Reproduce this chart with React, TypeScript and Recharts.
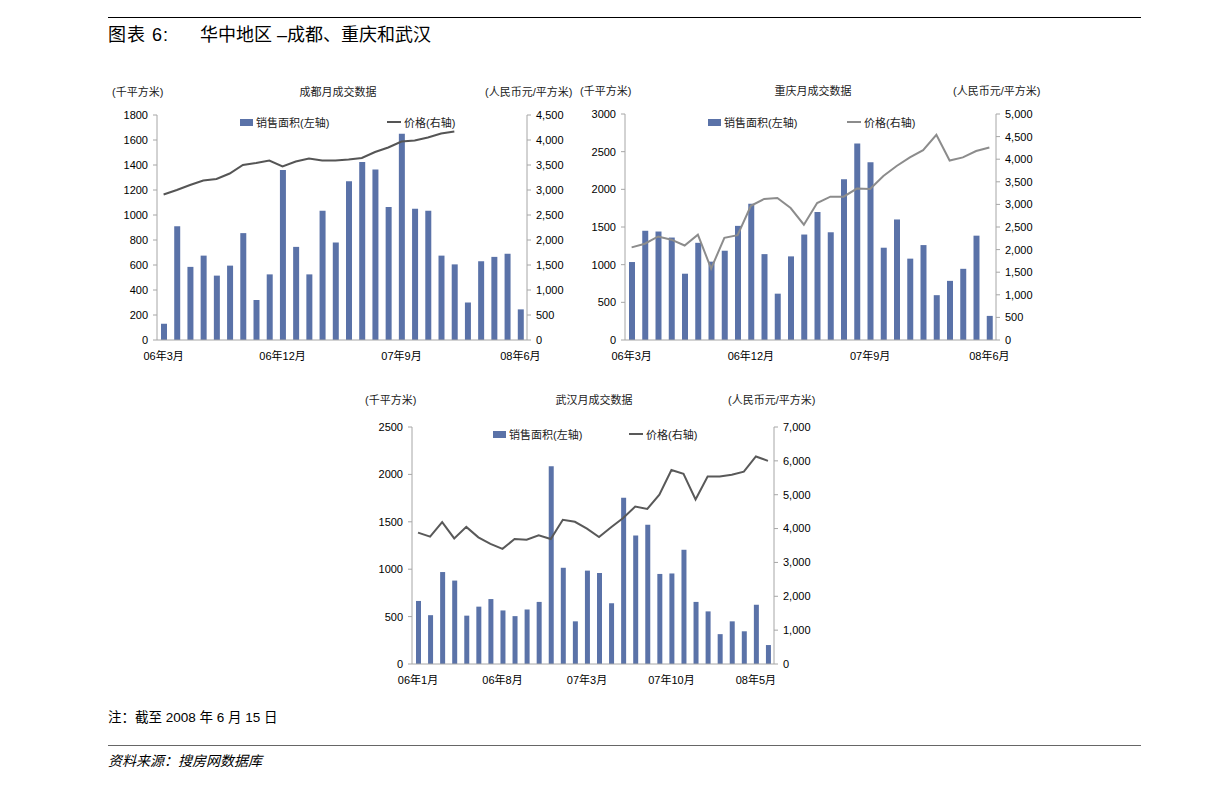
import React from 'react';
import {
  ComposedChart,
  Bar,
  Line,
  XAxis,
  YAxis,
  Legend,
} from 'recharts';

// 成都 / 重庆: 06年3月 – 08年6月
const MONTHS_0603 = [
  '06年3月', '06年4月', '06年5月', '06年6月', '06年7月', '06年8月', '06年9月', '06年10月', '06年11月', '06年12月',
  '07年1月', '07年2月', '07年3月', '07年4月', '07年5月', '07年6月', '07年7月', '07年8月', '07年9月', '07年10月',
  '07年11月', '07年12月', '08年1月', '08年2月', '08年3月', '08年4月', '08年5月', '08年6月',
];

// 武汉: 06年1月 – 08年6月
const MONTHS_0601 = [
  '06年1月', '06年2月', ...MONTHS_0603,
];

const CHENGDU_AREA = [130, 910, 585, 675, 515, 595, 855, 320, 525, 1360, 745, 525, 1035, 780, 1270, 1425, 1365, 1065, 1650, 1050, 1035, 675, 605, 300, 630, 665, 690, 245];
const CHENGDU_PRICE = [2910, 3000, 3100, 3190, 3220, 3330, 3500, 3540, 3590, 3470, 3570, 3630, 3590, 3590, 3610, 3640, 3760, 3850, 3970, 3990, 4050, 4130, 4170, null, null, null, null, null];

const CHONGQING_AREA = [1035, 1450, 1440, 1360, 880, 1290, 1040, 1185, 1515, 1810, 1140, 615, 1110, 1400, 1700, 1430, 2135, 2610, 2360, 1225, 1600, 1080, 1260, 595, 785, 945, 1385, 320];
const CHONGQING_PRICE = [2050, 2130, 2290, 2220, 2090, 2330, 1580, 2260, 2320, 2970, 3120, 3140, 2920, 2550, 3030, 3170, 3170, 3350, 3340, 3630, 3850, 4040, 4200, 4540, 3970, 4040, 4180, 4260];

const WUHAN_AREA = [665, 515, 970, 880, 510, 605, 685, 565, 505, 575, 655, 2085, 1015, 450, 985, 960, 640, 1755, 1355, 1470, 950, 955, 1205, 655, 555, 315, 450, 345, 625, 200];
const WUHAN_PRICE = [3880, 3760, 4190, 3710, 4050, 3740, 3550, 3400, 3690, 3670, 3800, 3690, 4260, 4200, 4000, 3750, 4040, 4310, 4650, 4580, 5000, 5730, 5620, 4860, 5540, 5540, 5590, 5680, 6130, 6000];

const CHENGDU_LEFT_TICKS = [0, 200, 400, 600, 800, 1000, 1200, 1400, 1600, 1800];
const CHENGDU_RIGHT_TICKS = [0, 500, 1000, 1500, 2000, 2500, 3000, 3500, 4000, 4500];
const CHONGQING_LEFT_TICKS = [0, 500, 1000, 1500, 2000, 2500, 3000];
const CHONGQING_RIGHT_TICKS = [0, 500, 1000, 1500, 2000, 2500, 3000, 3500, 4000, 4500, 5000];
const WUHAN_LEFT_TICKS = [0, 500, 1000, 1500, 2000, 2500];
const WUHAN_RIGHT_TICKS = [0, 1000, 2000, 3000, 4000, 5000, 6000, 7000];

const FONT = '"Liberation Sans", Arial, "Noto Sans CJK SC", sans-serif';
const BAR_COLOR = '#5a72a8';
const AXIS_COLOR = '#a6a6a6';
// the top legend reserves this much height above the plot
const LEGEND_H = 14;

const SERIES_AREA = '销售面积(左轴)';
const SERIES_PRICE = '价格(右轴)';

type CityChartProps = {
  title: string;
  months: string[];
  area: number[];
  price: (number | null)[];
  leftTicks: number[];
  rightTicks: number[];
  left: number;
  top: number;
  width: number;
  height: number;
  leftWidth: number;
  rightWidth: number;
  plotTop: number;
  xHeight: number;
  interval: number;
  barSize: number;
  lineColor: string;
  legendX: [number, number];
  legendY: number;
  unitLeftX: number;
  unitRightX: number;
  titleX: number;
  headY: number;
};

function CityChart(p: CityChartProps) {
  const data = p.months.map((m, i) => ({ month: m, area: p.area[i], price: p.price[i] }));
  const tickStyle = { fontSize: 11, fill: '#000', fontFamily: FONT };

  const legendContent = () => (
    <div style={{ position: 'relative', height: LEGEND_H, fontFamily: FONT, fontSize: 11, color: '#222' }}>
      <div style={{ position: 'absolute', left: p.legendX[0], top: 0, display: 'flex', alignItems: 'center', whiteSpace: 'nowrap' }}>
        <span style={{ display: 'inline-block', width: 13, height: 7, background: BAR_COLOR, marginRight: 3 }} />
        {SERIES_AREA}
      </div>
      <div style={{ position: 'absolute', left: p.legendX[1], top: 0, display: 'flex', alignItems: 'center', whiteSpace: 'nowrap' }}>
        <span style={{ display: 'inline-block', width: 14, height: 2, background: p.lineColor, marginRight: 3 }} />
        {SERIES_PRICE}
      </div>
    </div>
  );

  const headStyle: React.CSSProperties = {
    position: 'absolute',
    top: p.headY,
    fontFamily: FONT,
    fontSize: 11,
    color: '#222',
    whiteSpace: 'nowrap',
    lineHeight: '14px',
  };

  return (
    <div style={{ position: 'absolute', left: p.left, top: p.top, width: p.width, height: p.height }}>
      <div style={{ ...headStyle, left: p.unitLeftX }}>(千平方米)</div>
      <div style={{ ...headStyle, left: p.titleX, transform: 'translateX(-50%)' }}>{p.title}</div>
      <div style={{ ...headStyle, left: p.unitRightX }}>(人民币元/平方米)</div>
      <ComposedChart
        width={p.width}
        height={p.height}
        data={data}
        margin={{ top: p.plotTop - LEGEND_H, right: 0, bottom: 0, left: 0 }}
        barCategoryGap={0}
        style={{ position: 'absolute', left: 0, top: 0 }}
      >
        <XAxis
          dataKey="month"
          interval={p.interval}
          height={p.xHeight}
          tickLine={false}
          tickSize={8}
          tickMargin={4}
          axisLine={{ stroke: AXIS_COLOR }}
          tick={tickStyle}
        />
        <YAxis
          yAxisId="left"
          orientation="left"
          width={p.leftWidth}
          domain={[p.leftTicks[0], p.leftTicks[p.leftTicks.length - 1]]}
          ticks={p.leftTicks}
          tickSize={4}
          tickMargin={5}
          axisLine={{ stroke: AXIS_COLOR }}
          tickLine={{ stroke: AXIS_COLOR }}
          tick={tickStyle}
        />
        <YAxis
          yAxisId="right"
          orientation="right"
          width={p.rightWidth}
          domain={[p.rightTicks[0], p.rightTicks[p.rightTicks.length - 1]]}
          ticks={p.rightTicks}
          tickSize={4}
          tickMargin={5}
          axisLine={{ stroke: AXIS_COLOR }}
          tickLine={{ stroke: AXIS_COLOR }}
          tick={tickStyle}
          tickFormatter={(v: number) => v.toLocaleString('en-US')}
        />
        <Legend
          verticalAlign="top"
          content={legendContent}
          wrapperStyle={{ left: 0, top: p.legendY, width: p.width }}
        />
        <Bar
          yAxisId="left"
          dataKey="area"
          name={SERIES_AREA}
          fill={BAR_COLOR}
          barSize={p.barSize}
          isAnimationActive={false}
        />
        <Line
          yAxisId="right"
          dataKey="price"
          name={SERIES_PRICE}
          stroke={p.lineColor}
          strokeWidth={2}
          dot={false}
          type="linear"
          isAnimationActive={false}
        />
      </ComposedChart>
    </div>
  );
}

export default function App() {
  const textBase: React.CSSProperties = {
    position: 'absolute',
    fontFamily: '"Liberation Sans", Arial, "Noto Sans CJK SC", sans-serif',
    color: '#000',
    whiteSpace: 'nowrap',
  };

  return (
    <div style={{ position: 'absolute', left: 0, top: 0, width: 1224, height: 789, background: '#fff', overflow: 'hidden' }}>
      <div style={{ position: 'absolute', left: 108, top: 17, width: 1033, height: 1, background: '#000' }} />
      <div style={{ ...textBase, left: 108, top: 23, fontSize: 18, lineHeight: '24px', letterSpacing: 1 }}>
        图表 6:
      </div>
      <div style={{ ...textBase, left: 200, top: 23, fontSize: 18, lineHeight: '24px' }}>
        华中地区 –成都、重庆和武汉
      </div>

      <CityChart
        title="成都月成交数据"
        months={MONTHS_0603}
        area={CHENGDU_AREA}
        price={CHENGDU_PRICE}
        leftTicks={CHENGDU_LEFT_TICKS}
        rightTicks={CHENGDU_RIGHT_TICKS}
        left={100}
        top={80}
        width={480}
        height={290}
        leftWidth={57}
        rightWidth={53}
        plotTop={35}
        xHeight={30}
        interval={8}
        barSize={6}
        lineColor="#555555"
        legendX={[140, 287]}
        legendY={34}
        unitLeftX={12}
        unitRightX={385}
        titleX={238}
        headY={5}
      />

      <CityChart
        title="重庆月成交数据"
        months={MONTHS_0603}
        area={CHONGQING_AREA}
        price={CHONGQING_PRICE}
        leftTicks={CHONGQING_LEFT_TICKS}
        rightTicks={CHONGQING_RIGHT_TICKS}
        left={575}
        top={80}
        width={480}
        height={290}
        leftWidth={50}
        rightWidth={59}
        plotTop={34}
        xHeight={30}
        interval={8}
        barSize={6}
        lineColor="#8c8c8c"
        legendX={[133, 272]}
        legendY={34}
        unitLeftX={5}
        unitRightX={378}
        titleX={238}
        headY={4}
      />

      <CityChart
        title="武汉月成交数据"
        months={MONTHS_0601}
        area={WUHAN_AREA}
        price={WUHAN_PRICE}
        leftTicks={WUHAN_LEFT_TICKS}
        rightTicks={WUHAN_RIGHT_TICKS}
        left={355}
        top={390}
        width={470}
        height={300}
        leftWidth={57}
        rightWidth={51}
        plotTop={37}
        xHeight={26}
        interval={6}
        barSize={5}
        lineColor="#595959"
        legendX={[138, 274]}
        legendY={36}
        unitLeftX={10}
        unitRightX={373}
        titleX={239}
        headY={3}
      />

      <div style={{ ...textBase, left: 108, top: 709, fontSize: 13.5, lineHeight: '18px' }}>
        注：截至 2008 年 6 月 15 日
      </div>
      <div style={{ position: 'absolute', left: 108, top: 745, width: 1033, height: 1, background: '#666' }} />
      <div style={{ ...textBase, left: 108, top: 752, fontSize: 14, lineHeight: '18px', fontStyle: 'italic' }}>
        资料来源：搜房网数据库
      </div>
    </div>
  );
}
